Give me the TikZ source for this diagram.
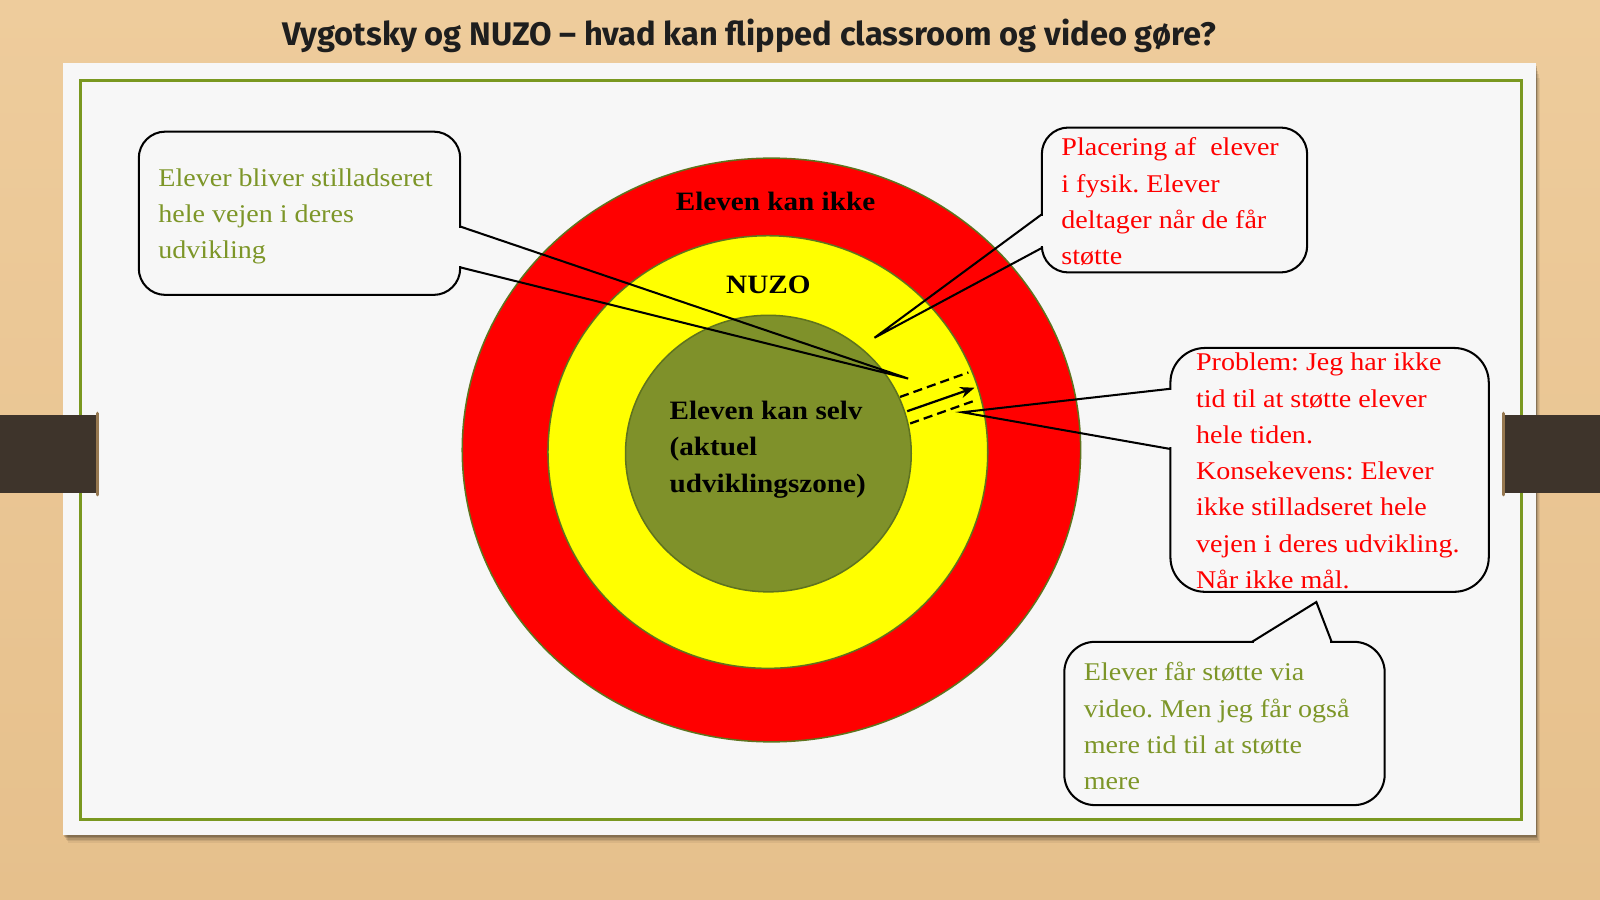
\documentclass[tikz,border=0pt]{standalone}
\usepackage{fontspec}
\setmainfont{Liberation Serif}[FakeStretch=1.10]
\newfontfamily\titlefont{Fira Sans}
\usetikzlibrary{arrows.meta}
\frenchspacing
\definecolor{woodtop}{RGB}{238,204,156}
\definecolor{woodbot}{RGB}{230,192,140}
\definecolor{panel}{RGB}{247,247,247}
\definecolor{framegreen}{RGB}{122,152,32}
\definecolor{zonegreen}{RGB}{127,145,42}
\definecolor{ringedge}{RGB}{95,115,30}
\definecolor{barcol}{RGB}{62,52,43}
\definecolor{barcap}{RGB}{150,120,80}
\definecolor{txtgreen}{RGB}{125,150,40}
\definecolor{txtred}{RGB}{255,0,0}
\definecolor{zoneyellow}{RGB}{255,255,0}
\definecolor{titlecol}{RGB}{30,30,30}
\begin{document}
\begin{tikzpicture}[x=1pt,y=-1pt,
  bodyfont/.style={font=\fontsize{25}{35.5}\selectfont\frenchspacing},
  greentxt/.style={bodyfont,text=txtgreen,align=left,anchor=north west,inner sep=0pt},
  redtxt/.style={bodyfont,text=txtred,align=left,anchor=north west,inner sep=0pt},
  zonetxt/.style={font=\fontsize{26}{35.5}\selectfont\bfseries,text=black,inner sep=0pt},
  callout/.style={draw=black,line width=2pt,line join=round},
  gapcover/.style={draw=panel,line width=4.5pt},
  ptr/.style={draw=black,line width=2pt,line join=miter},
  dashline/.style={draw=black,line width=2.2pt,dash pattern=on 9pt off 5pt},
  arrowline/.style={draw=black,line width=2.2pt,-{Stealth[length=14pt,width=11pt]}}]
\useasboundingbox (0,0) rectangle (1568,882);
% background
\shade[top color=woodtop,bottom color=woodbot] (0,0) rectangle (1568,882);
% panel shadow
\foreach \o/\a in {14/0.06,11/0.08,8/0.10,5/0.12,3/0.14}{
  \fill[black,opacity=\a] (62+\o*0.3,62+\o) rectangle (1505+\o*0.3,818+\o*0.6);
}
\fill[panel] (62,62) rectangle (1505,818);
\draw[framegreen,line width=2.5pt] (79,79) rectangle (1491,803);
% side bars
\fill[barcol] (0,407) rectangle (95,483);
\draw[barcap,line width=3pt,line cap=round] (96,405) -- (96,485);
\fill[barcol] (1474,407) rectangle (1568,483);
\draw[barcap,line width=3pt,line cap=round] (1473,405) -- (1473,485);
% title
\node[text=titlecol,font=\titlefont\bfseries\fontsize{32}{36}\selectfont] (title) at (734,35)
  {Vygotsky og NUZO – hvad kan flipped classroom og video gøre?};
% zones
\filldraw[fill=red,draw=ringedge,line width=1.5pt] (756,441) ellipse [x radius=303,y radius=286];
\filldraw[fill=zoneyellow,draw=ringedge,line width=1.5pt] (752.5,443) ellipse [x radius=215.5,y radius=212];
\filldraw[fill=zonegreen,draw=ringedge,line width=1.5pt] (753,444.5) ellipse [x radius=140,y radius=135.5];
\node[zonetxt,anchor=base] (ikke) at (760,206) {Eleven kan ikke};
\node[zonetxt,anchor=base] (nuzo) at (753,288) {NUZO};
\node[zonetxt,align=left,anchor=north west] (selv) at (656,393)
  {Eleven kan selv\\(aktuel\\udviklingszone)};
% dashed lines and arrow in the NUZO
\coordinate (d1a) at (882,389); \coordinate (d1b) at (949,365);
\coordinate (ara) at (889,403); \coordinate (arb) at (955,380);
\coordinate (d2a) at (892,415); \coordinate (d2b) at (957,392);
\draw[dashline] (d1a) -- (d1b);
\draw[arrowline] (ara) -- (arb);
\draw[dashline] (d2a) -- (d2b);
% callout 1 (left)
\coordinate (tip1) at (890,371);
\draw[callout,rounded corners=26pt] (136,129) rectangle (451,289);
\draw[gapcover] (451,223.5) -- (451,260.5);
\draw[ptr] (451,222) -- (tip1) -- (451,262);
\node[greentxt] (t1) at (155,165) {Elever bliver stilladseret\\hele vejen i deres\\udvikling};
% callout 2 (top right)
\coordinate (tip2) at (857,331);
\draw[callout,rounded corners=26pt] (1021,125) rectangle (1281,267);
\draw[gapcover] (1021,211.5) -- (1021,241.5);
\draw[ptr] (1021,210) -- (tip2) -- (1021,243);
\node[redtxt] (t2) at (1040,135) {Placering af\ \ elever\\i fysik. Elever\\deltager når de får\\støtte};
% callout 3 (problem)
\coordinate (tip3) at (943,404);
\draw[callout,rounded corners=34pt] (1147,341) rectangle (1459,580);
\draw[gapcover] (1147,382.5) -- (1147,438.5);
\draw[ptr] (1147,381) -- (tip3) -- (1147,440);
\node[redtxt] (t3) at (1172,346) {Problem: Jeg har ikke\\tid til at støtte elever\\hele tiden.\\Konsekevens: Elever\\ikke stilladseret hele\\vejen i deres udvikling.\\Når ikke mål.};
% callout 4 (bottom)
\coordinate (tip4) at (1290,590);
\draw[callout,rounded corners=30pt] (1043,629) rectangle (1357,789);
\draw[gapcover] (1228.5,629) -- (1303.5,629);
\draw[ptr] (1227,629) -- (tip4) -- (1305,629);
\node[greentxt] (t4) at (1062,649) {Elever får støtte via\\video. Men jeg får også\\mere tid til at støtte\\mere};
\end{tikzpicture}
\end{document}
